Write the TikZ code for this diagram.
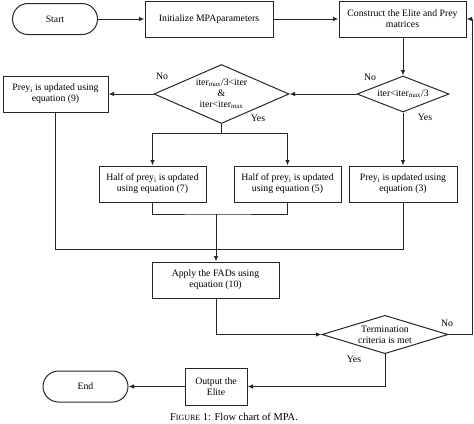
\documentclass[tikz,border=0pt]{standalone}
\usepackage{fontspec}
\setmainfont{Liberation Serif}
\usetikzlibrary{shapes.geometric,arrows.meta}
\begin{document}
\begin{tikzpicture}[x=1bp,y=-1bp,
  font=\fontsize{9.8}{11.2}\selectfont,
  line width=1pt,
  every node/.style={text=black},
  box/.style={draw=black!85,line width=1pt,rectangle,inner sep=1pt,align=center,minimum height=36bp},
  term/.style={draw=black!85,line width=1pt,rectangle,rounded corners=15.5bp,minimum width=85bp,minimum height=31bp},
  dec/.style={draw=black!85,line width=1pt,diamond,aspect=2.6,inner sep=0pt,align=center},
  conn/.style={draw=black!85,line width=1pt},
  arr/.style={conn,-{Latex[length=5.5bp,width=4.5bp]}},
  lbl/.style={font=\fontsize{9.8}{10}\selectfont}
]
\useasboundingbox (0,0) rectangle (474,423);

\node[term] (start) at (55,19) {Start};
\node[box,minimum width=128bp] (init) at (209,19) {Initialize MPAparameters};
\node[box,minimum width=127bp] (cons) at (402.5,19) {Construct the Elite and Prey\\matrices};
\node[dec,minimum width=92bp,minimum height=36bp] (d1) at (403,94) {iter<iter\textsubscript{max}/3};
\node[dec,minimum width=135bp,minimum height=59bp,font=\fontsize{9.8}{11}\selectfont] (d2) at (221.5,94) {iter\textsubscript{max}/3<iter\\\&\\iter<iter\textsubscript{max}};
\node[box,minimum width=105bp] (p9) at (55.5,94) {Prey\textsubscript{i} is updated using\\equation (9)};
\node[box,minimum width=107bp] (h7) at (152.5,184) {Half of prey\textsubscript{i} is updated\\using equation (7)};
\node[box,minimum width=107bp] (h5) at (287.5,184) {Half of prey\textsubscript{i} is updated\\using equation (5)};
\node[box,minimum width=108bp] (p3) at (403,184) {Prey\textsubscript{i} is updated using\\equation (3)};
\node[box,minimum width=127bp] (apply) at (215.5,280) {Apply the FADs using\\equation (10)};
\node[dec,minimum width=126bp,minimum height=37bp] (tc) at (385,334.5) {Termination\\criteria is met};
\node[box,minimum width=62bp,minimum height=37bp] (out) at (216,386.5) {Output the\\Elite};
\node[term] (end) at (85.5,386.5) {End};

\coordinate (b1) at (221.5,133);
\coordinate (m) at (216,214);
\coordinate (j) at (216,249);
\coordinate (fb) at (472.5,334.5);

\draw[arr] (start) -- (init);
\draw[arr] (init) -- (cons);
\draw[arr] (cons.south -| d1.north) -- (d1.north);
\draw[arr] (d1.west) -- (d2.east);
\draw[arr] (d2.west) -- (p9.east);
\draw[arr] (d1.south) -- (p3.north);
\draw[conn] (d2.south) -- (b1);
\draw[arr] (b1) -| (h7.north);
\draw[arr] (b1) -| (h5.north);
\draw[conn] (h7.south) |- (m) -| (h5.south);
\draw[conn] (p9.south) |- (j) -| (p3.south);
\draw[arr] (m) -- (m |- apply.north);
\draw[arr] (apply.south -| m) |- (tc.west);
\draw[arr] (tc.east) -- (fb) |- (cons.east);
\draw[arr] (tc.south) |- (out.east);
\draw[arr] (out.west) -- (end.east);

\node[lbl] (no1) at (370,77) {No};
\node[lbl] (yes1) at (425,117) {Yes};
\node[lbl] (no2) at (162,76) {No};
\node[lbl] (yes2) at (258,118) {Yes};
\node[lbl] (no3) at (447,323) {No};
\node[lbl] (yes3) at (354,359) {Yes};

\node (cap) at (234,417) {\fontsize{10.5}{12}\selectfont F{\fontsize{8}{9}\selectfont IGURE} 1: Flow chart of MPA.};
\end{tikzpicture}
\end{document}
